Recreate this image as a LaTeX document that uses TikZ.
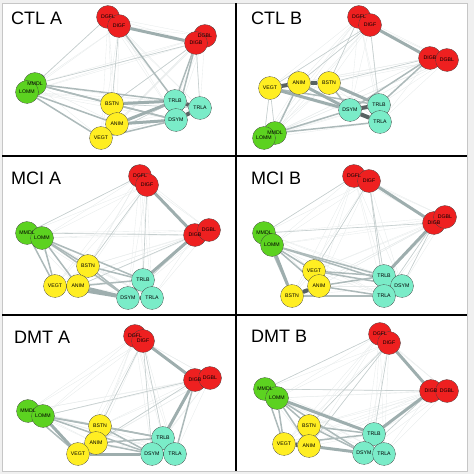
\documentclass[tikz,border=0pt]{standalone}
\usepackage{fontspec}
\setmainfont{Liberation Sans}
\usetikzlibrary{backgrounds}
\definecolor{nred}{RGB}{238,32,32}
\definecolor{ngreen}{RGB}{92,210,32}
\definecolor{nyellow}{RGB}{255,238,34}
\definecolor{naqua}{RGB}{122,236,200}
\definecolor{edgec}{RGB}{158,174,174}
\definecolor{darkc}{RGB}{88,98,98}
\tikzset{
  nd/.style={circle, fill=#1, draw=black!75, dash pattern=on 1pt off 0.5pt, line width=0.35pt,
    minimum size=23pt, inner sep=0pt},
  lbl/.style={inner sep=0pt, font=\fontsize{5.2}{6}\selectfont},
  ttl/.style={anchor=west, inner sep=0pt, font=\fontsize{18}{21}\selectfont},
  wfaint/.style={line width=0.35pt, edgec!25},
  wthin/.style={line width=0.6pt, edgec!60},
  wmed/.style={line width=1.5pt, edgec!85},
  wthick/.style={line width=3pt, edgec},
  wdark/.style={line width=4pt, darkc}
}
% faint edges between every pair of nodes of one panel
\newcommand{\faintedges}[1]{%
  \foreach \s [count=\i] in {DGFL,DIGF,DGBL,DIGB,MMDL,LOMM,BSTN,ANIM,VEGT,TRLB,TRLA,DSYM} {%
    \foreach \t [count=\j] in {DGFL,DIGF,DGBL,DIGB,MMDL,LOMM,BSTN,ANIM,VEGT,TRLB,TRLA,DSYM} {%
      \ifnum\j>\i\relax \draw[wfaint] (#1\s) -- (#1\t);\fi}}}
% labels go on top of all circles
\newcommand{\nodelabels}[1]{%
  \foreach \n in {DGFL,DIGF,DGBL,DIGB,MMDL,LOMM,BSTN,ANIM,VEGT,TRLB,TRLA,DSYM}
    \node[lbl] (#1\n-t) at (#1\n) {\n};}
\begin{document}
\begin{tikzpicture}[x=1pt, y=-1pt]
\useasboundingbox (0,0) rectangle (474,474);
% frame and panel dividers
\fill[gray!12, even odd rule] (0,0) rectangle (474,474) (2,3) rectangle (467,471);
\draw[gray!45, line width=0.6pt] (2,3) rectangle (467,471);
\draw[line width=1.2pt] (236,3) -- (236,471);
\draw[line width=1.2pt] (2,156) -- (467,156);
\draw[line width=1.2pt] (2,315) -- (467,315);
% CTL A
\begin{scope}[shift={(0,0)}]
  \node[ttl] (ttlca) at (11,18) {CTL A};
  \foreach \n/\c/\x/\y in {DGFL/nred/108/17, DIGF/nred/119/26, DGBL/nred/205/36, DIGB/nred/196/43,
    MMDL/ngreen/35/84, LOMM/ngreen/27/92, BSTN/nyellow/112/104, ANIM/nyellow/117/124,
    VEGT/nyellow/101/138, TRLB/naqua/175/101, TRLA/naqua/200/108, DSYM/naqua/176/120}
    \node[nd=\c] (ca\n) at (\x,\y) {};
  \nodelabels{ca}
  \begin{pgfonlayer}{background}
    \faintedges{ca}
    \foreach \s/\t in {DIGF/BSTN, DIGB/TRLA, DGFL/MMDL, DIGB/MMDL, DIGB/BSTN, VEGT/TRLB, BSTN/TRLA}
      \draw[wthin] (ca\s) -- (ca\t);
    \foreach \s/\t in {DIGB/TRLB, DIGF/TRLB, MMDL/TRLB, MMDL/BSTN, LOMM/VEGT, LOMM/ANIM,
      VEGT/DSYM, BSTN/DSYM, DIGB/DSYM, MMDL/DSYM}
      \draw[wmed] (ca\s) -- (ca\t);
    \foreach \s/\t in {DIGF/DIGB, BSTN/TRLB, ANIM/TRLB, ANIM/DSYM}
      \draw[wthick] (ca\s) -- (ca\t);
    \foreach \s/\t in {TRLB/TRLA, DSYM/TRLA, TRLB/DSYM, BSTN/ANIM, ANIM/VEGT, DGFL/DIGF, DGBL/DIGB, MMDL/LOMM}
      \draw[wdark] (ca\s) -- (ca\t);
  \end{pgfonlayer}
\end{scope}
% CTL B
\begin{scope}[shift={(237,0)}]
  \node[ttl] (ttlcb) at (14,18) {CTL B};
  \foreach \n/\c/\x/\y in {DGFL/nred/122/17, DIGF/nred/133/25, DIGB/nred/193/58, DGBL/nred/210/60,
    MMDL/ngreen/38/133, LOMM/ngreen/27/138, VEGT/nyellow/33/88, ANIM/nyellow/62/83,
    BSTN/nyellow/92/83, DSYM/naqua/113/110, TRLB/naqua/142/105, TRLA/naqua/143/122}
    \node[nd=\c] (cb\n) at (\x,\y) {};
  \nodelabels{cb}
  \begin{pgfonlayer}{background}
    \faintedges{cb}
    \foreach \s/\t in {DIGF/TRLB, DIGF/VEGT, DIGF/ANIM, MMDL/VEGT, LOMM/VEGT, DIGB/BSTN, DGFL/BSTN}
      \draw[wthin] (cb\s) -- (cb\t);
    \foreach \s/\t in {DIGB/TRLB, DIGB/DSYM, MMDL/DSYM, MMDL/TRLA, MMDL/ANIM, BSTN/DSYM, VEGT/TRLB}
      \draw[wmed] (cb\s) -- (cb\t);
    \foreach \s/\t in {DIGF/DIGB, VEGT/DSYM, ANIM/DSYM, BSTN/TRLB}
      \draw[wthick] (cb\s) -- (cb\t);
    \foreach \s/\t in {VEGT/ANIM, ANIM/BSTN, DSYM/TRLB, DSYM/TRLA, TRLB/TRLA, DGFL/DIGF, DGBL/DIGB, MMDL/LOMM}
      \draw[wdark] (cb\s) -- (cb\t);
  \end{pgfonlayer}
\end{scope}
% MCI A
\begin{scope}[shift={(0,158)}]
  \node[ttl] (ttlma) at (11,20) {MCI A};
  \foreach \n/\c/\x/\y in {DGFL/nred/140/18, DIGF/nred/147/27, DIGB/nred/195/77, DGBL/nred/209/72,
    MMDL/ngreen/27/75, LOMM/ngreen/42/80, BSTN/nyellow/88/108, VEGT/nyellow/55/128,
    ANIM/nyellow/78/128, TRLB/naqua/143/122, DSYM/naqua/128/140, TRLA/naqua/152/140}
    \node[nd=\c] (ma\n) at (\x,\y) {};
  \nodelabels{ma}
  \begin{pgfonlayer}{background}
    \faintedges{ma}
    \foreach \s/\t in {DIGF/BSTN, DIGF/TRLB, DGFL/MMDL, DIGB/MMDL, DIGB/DSYM, DIGB/ANIM}
      \draw[wthin] (ma\s) -- (ma\t);
    \foreach \s/\t in {MMDL/VEGT, LOMM/VEGT, LOMM/ANIM, LOMM/BSTN, LOMM/TRLB, LOMM/DSYM,
      BSTN/TRLB, BSTN/DSYM, ANIM/TRLB}
      \draw[wmed] (ma\s) -- (ma\t);
    \foreach \s/\t in {DIGF/DIGB, DIGB/TRLB, VEGT/DSYM, ANIM/DSYM}
      \draw[wthick] (ma\s) -- (ma\t);
    \foreach \s/\t in {VEGT/ANIM, DSYM/TRLA, TRLB/TRLA, TRLB/DSYM, BSTN/ANIM, DGFL/DIGF, DGBL/DIGB, MMDL/LOMM}
      \draw[wdark] (ma\s) -- (ma\t);
  \end{pgfonlayer}
\end{scope}
% MCI B
\begin{scope}[shift={(237,158)}]
  \node[ttl] (ttlmb) at (14,20) {MCI B};
  \foreach \n/\c/\x/\y in {DGFL/nred/117/18, DIGF/nred/132/23, DIGB/nred/197/65, DGBL/nred/208/59,
    MMDL/ngreen/27/75, LOMM/ngreen/35/87, VEGT/nyellow/77/113, ANIM/nyellow/82/128,
    BSTN/nyellow/55/138, TRLB/naqua/147/118, DSYM/naqua/165/128, TRLA/naqua/147/138}
    \node[nd=\c] (mb\n) at (\x,\y) {};
  \nodelabels{mb}
  \begin{pgfonlayer}{background}
    \faintedges{mb}
    \foreach \s/\t in {DIGF/VEGT, DIGF/TRLB, DGFL/MMDL, DIGB/MMDL, DIGB/TRLA, DIGB/DSYM, DIGF/TRLA}
      \draw[wthin] (mb\s) -- (mb\t);
    \foreach \s/\t in {LOMM/VEGT, LOMM/TRLB, LOMM/DSYM, LOMM/ANIM, VEGT/TRLB, ANIM/TRLB,
      ANIM/TRLA, BSTN/TRLA, MMDL/BSTN, VEGT/DSYM}
      \draw[wmed] (mb\s) -- (mb\t);
    \foreach \s/\t in {DIGF/DIGB, DIGB/TRLB, LOMM/BSTN}
      \draw[wthick] (mb\s) -- (mb\t);
    \foreach \s/\t in {BSTN/ANIM, VEGT/ANIM, TRLB/DSYM, DSYM/TRLA, TRLB/TRLA, DGFL/DIGF, DGBL/DIGB, MMDL/LOMM}
      \draw[wdark] (mb\s) -- (mb\t);
  \end{pgfonlayer}
\end{scope}
% DMT A
\begin{scope}[shift={(0,316)}]
  \node[ttl] (ttlda) at (14,21) {DMT A};
  \foreach \n/\c/\x/\y in {DGFL/nred/135/20, DIGF/nred/143/25, DIGB/nred/195/64, DGBL/nred/210/62,
    MMDL/ngreen/28/95, LOMM/ngreen/43/100, BSTN/nyellow/100/110, ANIM/nyellow/96/127,
    VEGT/nyellow/78/138, TRLB/naqua/163/122, DSYM/naqua/152/138, TRLA/naqua/175/138}
    \node[nd=\c] (da\n) at (\x,\y) {};
  \nodelabels{da}
  \begin{pgfonlayer}{background}
    \faintedges{da}
    \foreach \s/\t in {DIGF/TRLB, DIGF/DSYM, DIGF/BSTN, DIGB/LOMM, DIGB/ANIM}
      \draw[wthin] (da\s) -- (da\t);
    \foreach \s/\t in {MMDL/VEGT, LOMM/BSTN, LOMM/TRLB, LOMM/DSYM, ANIM/TRLB, BSTN/DSYM,
      BSTN/TRLB, ANIM/DSYM, DIGB/TRLA}
      \draw[wmed] (da\s) -- (da\t);
    \foreach \s/\t in {DIGF/DIGB, DIGB/TRLB, LOMM/VEGT, VEGT/DSYM}
      \draw[wthick] (da\s) -- (da\t);
    \foreach \s/\t in {DSYM/TRLA, TRLB/DSYM, TRLB/TRLA, BSTN/ANIM, ANIM/VEGT, DGFL/DIGF, DGBL/DIGB, MMDL/LOMM}
      \draw[wdark] (da\s) -- (da\t);
  \end{pgfonlayer}
\end{scope}
% DMT B
\begin{scope}[shift={(237,316)}]
  \node[ttl] (ttldb) at (14,20) {DMT B};
  \foreach \n/\c/\x/\y in {DGFL/nred/143/18, DIGF/nred/152/27, DIGB/nred/194/75, DGBL/nred/210/75,
    MMDL/ngreen/28/73, LOMM/ngreen/40/82, BSTN/nyellow/72/110, VEGT/nyellow/47/128,
    ANIM/nyellow/72/130, TRLB/naqua/137/118, DSYM/naqua/127/137, TRLA/naqua/147/138}
    \node[nd=\c] (db\n) at (\x,\y) {};
  \nodelabels{db}
  \begin{pgfonlayer}{background}
    \faintedges{db}
    \foreach \s/\t in {DIGF/TRLB, DIGF/BSTN, DIGF/ANIM, DIGB/MMDL, DGFL/MMDL, DIGB/DSYM}
      \draw[wthin] (db\s) -- (db\t);
    \foreach \s/\t in {MMDL/VEGT, LOMM/VEGT, LOMM/BSTN, LOMM/ANIM, LOMM/DSYM, BSTN/TRLB,
      BSTN/DSYM, VEGT/TRLB}
      \draw[wmed] (db\s) -- (db\t);
    \foreach \s/\t in {DIGF/DIGB, DIGB/TRLB, LOMM/TRLB, ANIM/DSYM}
      \draw[wthick] (db\s) -- (db\t);
    \foreach \s/\t in {VEGT/ANIM, DSYM/TRLA, TRLB/TRLA, TRLB/DSYM, BSTN/ANIM, DGFL/DIGF, DGBL/DIGB, MMDL/LOMM}
      \draw[wdark] (db\s) -- (db\t);
  \end{pgfonlayer}
\end{scope}
\end{tikzpicture}
\end{document}
